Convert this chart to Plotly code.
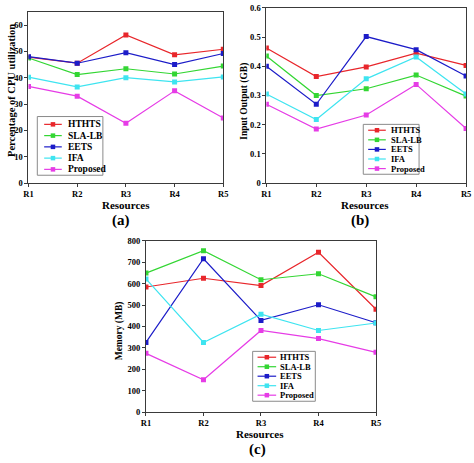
import plotly.graph_objects as go

W, H = 474, 463

resources = ["R1", "R2", "R3", "R4", "R5"]
series_names = ["HTHTS", "SLA-LB", "EETS", "IFA", "Proposed"]
colors = ["#e8262b", "#33d633", "#1c1cc8", "#3ee4f0", "#e63ce6"]

# (a) CPU utilization (%)
cpu_hthts = [47.8, 45.5, 56.2, 48.7, 50.8]
cpu_slalb = [47.5, 41.2, 43.4, 41.4, 44.4]
cpu_eets = [48.0, 45.5, 49.5, 45.0, 49.2]
cpu_ifa = [40.2, 36.5, 40.0, 38.4, 40.3]
cpu_proposed = [36.7, 33.0, 22.7, 35.0, 24.7]

# (b) Input Output (GB)
io_hthts = [0.463, 0.365, 0.398, 0.445, 0.403]
io_slalb = [0.435, 0.300, 0.323, 0.370, 0.298]
io_eets = [0.400, 0.270, 0.502, 0.457, 0.367]
io_ifa = [0.305, 0.218, 0.357, 0.432, 0.305]
io_proposed = [0.270, 0.185, 0.233, 0.338, 0.187]

# (c) Memory (MB)
mem_hthts = [584, 625, 591, 746, 480]
mem_slalb = [649, 754, 618, 646, 538]
mem_eets = [325, 716, 428, 501, 417]
mem_ifa = [622, 325, 457, 381, 416]
mem_proposed = [274, 151, 381, 343, 279]

panels = [
    dict(data=[cpu_hthts, cpu_slalb, cpu_eets, cpu_ifa, cpu_proposed],
         xa="x", ya="y", box=(24, 7, 223, 182), yrange=[0, 65], dtick=10),
    dict(data=[io_hthts, io_slalb, io_eets, io_ifa, io_proposed],
         xa="x2", ya="y2", box=(267, 3, 471, 182), yrange=[0, 0.6], dtick=0.1),
    dict(data=[mem_hthts, mem_slalb, mem_eets, mem_ifa, mem_proposed],
         xa="x3", ya="y3", box=(144, 241, 379, 416), yrange=[0, 800], dtick=100),
]

FONT = "Liberation Serif"
AXC = "#3a3a3a"


def px(x):
    return x / W


def py(y):
    return 1 - y / H


fig = go.Figure()
xidx = list(range(len(resources)))

for p in panels:
    for name, vals, col in zip(series_names, p["data"], colors):
        fig.add_trace(go.Scatter(
            x=xidx, y=vals, mode="lines+markers", name=name,
            line=dict(color=col, width=1.2),
            marker=dict(symbol="square", size=5, color=col),
            xaxis=p["xa"], yaxis=p["ya"], showlegend=False))

layout = dict(width=W, height=H, margin=dict(l=0, r=0, t=0, b=0),
              paper_bgcolor="white", plot_bgcolor="white", showlegend=False,
              font=dict(family=FONT, color="black"))

tickfont = dict(family=FONT, size=8.5, color="black", weight="bold")
for i, p in enumerate(panels):
    x0, y0, x1, y1 = p["box"]
    xk = "xaxis" if i == 0 else f"xaxis{i+1}"
    yk = "yaxis" if i == 0 else f"yaxis{i+1}"
    yname = "y" if i == 0 else f"y{i+1}"
    xname = "x" if i == 0 else f"x{i+1}"
    layout[xk] = dict(domain=[px(x0), px(x1)], range=[0, 4], anchor=yname,
                      tickvals=xidx, ticktext=resources, ticks="outside",
                      ticklen=3, tickcolor=AXC, showline=True, linecolor=AXC,
                      linewidth=1, mirror=True, showgrid=False, zeroline=False,
                      tickfont=tickfont)
    layout[yk] = dict(domain=[py(y1), py(y0)], range=p["yrange"], anchor=xname,
                      dtick=p["dtick"], tick0=0, ticks="outside", ticklen=3,
                      tickcolor=AXC, showline=True, linecolor=AXC, linewidth=1,
                      mirror=True, showgrid=False, zeroline=False,
                      tickfont=tickfont)
    # inward ticks on the right frame
    layout[f"yaxis{i+4}"] = dict(overlaying=yname, side="right", anchor=xname,
                                range=p["yrange"], dtick=p["dtick"], tick0=0,
                                ticks="inside", ticklen=3, tickcolor=AXC,
                                showticklabels=False, showline=False,
                                showgrid=False, zeroline=False)

annotations = []
shapes = []


def text(x, y, s, size, angle=0):
    annotations.append(dict(x=px(x), y=py(y), xref="paper", yref="paper",
                            text=s, showarrow=False, textangle=angle,
                            xanchor="center", yanchor="middle",
                            font=dict(family=FONT, size=size, color="black",
                                      weight="bold")))


text(124, 204, "Resources", 11)
text(368, 204, "Resources", 11)
text(260, 438, "Resources", 11)
text(118, 220, "(a)", 15)
text(363, 220, "(b)", 15)
text(258, 454, "(c)", 15)
text(6, 87, "Percentage of CPU utilization", 10.5, -90)
text(245, 98, "Input Output (GB)", 9.5, -90)
text(117, 333, "Memory (MB)", 9.5, -90)

# custom compact legends (px geometry)
legends = [
    dict(box=(33, 114, 100, 174), y_first=122, dy=11.5, lx=(40, 58), tx=62, fs=9.5),
    dict(box=(366, 122, 423, 173), y_first=128, dy=9.8, lx=(371, 389), tx=392, fs=8.5),
    dict(box=(253, 354, 317, 405), y_first=360, dy=9.7, lx=(258, 277), tx=279, fs=8.5),
]
for lg in legends:
    bx0, by0, bx1, by1 = lg["box"]
    shapes.append(dict(type="rect", xref="paper", yref="paper",
                       x0=px(bx0), x1=px(bx1), y0=py(by1), y1=py(by0),
                       line=dict(color="#8a8a8a", width=1), fillcolor="white",
                       layer="above"))
    for k, (name, col) in enumerate(zip(series_names, colors)):
        yy = lg["y_first"] + k * lg["dy"]
        lx0, lx1 = lg["lx"]
        shapes.append(dict(type="line", xref="paper", yref="paper",
                           x0=px(lx0), x1=px(lx1), y0=py(yy), y1=py(yy),
                           line=dict(color=col, width=1.2), layer="above"))
        mx = (lx0 + lx1) / 2
        shapes.append(dict(type="rect", xref="paper", yref="paper",
                           x0=px(mx - 2.3), x1=px(mx + 2.3),
                           y0=py(yy + 2.3), y1=py(yy - 2.3),
                           line=dict(width=0), fillcolor=col, layer="above"))
        annotations.append(dict(x=px(lg["tx"]), y=py(yy), xref="paper",
                                yref="paper", text=name, showarrow=False,
                                xanchor="left", yanchor="middle",
                                font=dict(family=FONT, size=lg["fs"],
                                          color="black", weight="bold")))

layout["annotations"] = annotations
layout["shapes"] = shapes
fig.update_layout(**layout)
fig.write_html("out.html")
